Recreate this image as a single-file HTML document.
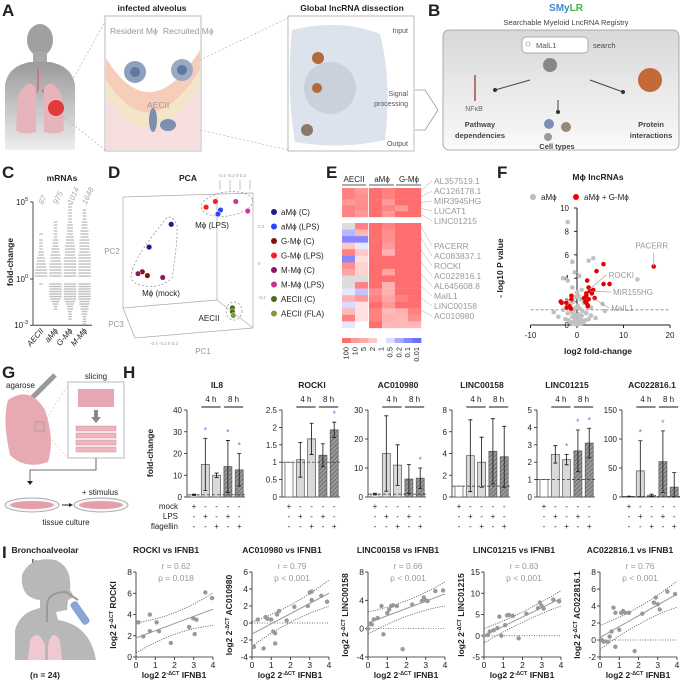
<!DOCTYPE html>
<html><head><meta charset="utf-8">
<style>
html,body{margin:0;padding:0;background:#fff;}
svg{display:block;font-family:"Liberation Sans",sans-serif;}
.pl{font-size:17px;font-weight:bold;fill:#222;}
.t{font-size:8.5px;font-weight:bold;fill:#222;}
.k{font-size:8px;fill:#333;}
.g{font-size:8.5px;fill:#999;}
</style></head>
<body>
<svg id="fig" width="685" height="682" viewBox="0 0 685 682">
<defs>
<pattern id="hatch" width="3" height="3" patternUnits="userSpaceOnUse" patternTransform="rotate(45)"><rect width="3" height="3" fill="#9a9a9a"/><line x1="0" y1="0" x2="0" y2="3" stroke="#555" stroke-width="1.2"/></pattern>
<linearGradient id="bgB" x1="0" y1="0" x2="0" y2="1"><stop offset="0" stop-color="#d8d8d8"/><stop offset="1" stop-color="#fafafa"/></linearGradient>
<linearGradient id="pers" x1="0" y1="0" x2="0" y2="1"><stop offset="0" stop-color="#9a9a9a"/><stop offset="1" stop-color="#eeeeee"/></linearGradient>
</defs>

<!-- Panel A -->
<g>
<text class="pl" x="2" y="16">A</text>
<g>
<ellipse cx="40" cy="40" rx="13" ry="16" fill="#a0a0a0"/>
<rect x="33" y="52" width="14" height="12" fill="#a8a8a8"/>
<path d="M5,150 L5,85 Q8,66 30,62 L50,62 Q72,66 75,85 L75,150 Z" fill="url(#pers)"/>
<path d="M38,68 L38,90 M38,90 L28,100 M42,90 L52,100" stroke="#c87a8a" stroke-width="2" fill="none"/>
<path d="M18,95 Q30,75 36,90 L36,132 Q22,136 16,130 Z" fill="#e8b4bc"/>
<path d="M62,95 Q50,75 44,90 L44,132 Q58,136 64,130 Z" fill="#e8b4bc"/>
<circle cx="56" cy="108" r="8" fill="#e03a3a"/>
</g>
<line x1="60" y1="102" x2="105" y2="22" stroke="#aaa" stroke-width="0.6" stroke-dasharray="2,2"/>
<line x1="60" y1="114" x2="105" y2="150" stroke="#aaa" stroke-width="0.6" stroke-dasharray="2,2"/>
<text class="t" x="152" y="11" text-anchor="middle">infected alveolus</text>
<g>
<rect x="105" y="16" width="96" height="135" fill="#fff" stroke="#aaa" stroke-width="0.8"/>
<path d="M106,58 Q150,130 200,50 L200,70 Q150,150 106,80 Z" fill="#f6cdb8"/>
<path d="M106,80 Q150,150 200,70 L200,85 Q150,165 106,95 Z" fill="#f3e6c8"/>
<path d="M106,95 Q150,165 200,85 L200,150 L106,150 Z" fill="#f7dede"/>
<circle cx="135" cy="72" r="11" fill="#8fa0bc"/><circle cx="135" cy="72" r="5" fill="#62789e"/>
<circle cx="182" cy="70" r="11" fill="#9aa9c4"/><circle cx="182" cy="70" r="5" fill="#62789e"/>
<ellipse cx="168" cy="125" rx="8" ry="6" fill="#7d90b4"/>
<ellipse cx="153" cy="120" rx="4" ry="12" fill="#7d90b4"/>
<text class="g" x="110" y="34" font-size="7" fill="#555">Resident Mϕ</text>
<text class="g" x="163" y="34" font-size="7" fill="#555">Recruited Mϕ</text>
<text class="g" x="147" y="108" font-size="7" fill="#555">AECII</text>
</g>
<line x1="200" y1="60" x2="288" y2="18" stroke="#aaa" stroke-width="0.6" stroke-dasharray="2,2"/>
<line x1="200" y1="130" x2="288" y2="150" stroke="#aaa" stroke-width="0.6" stroke-dasharray="2,2"/>
<text class="t" x="352" y="11" text-anchor="middle">Global lncRNA dissection</text>
<g>
<rect x="288" y="16" width="126" height="135" fill="#fff" stroke="#aaa" stroke-width="0.8"/>
<path d="M292,30 Q340,18 380,34 Q392,80 385,140 Q340,150 295,142 Q286,90 292,30 Z" fill="#dde3ec"/>
<circle cx="330" cy="88" r="26" fill="#c9d1dd"/>
<circle cx="318" cy="58" r="6" fill="#b06a3c"/>
<circle cx="317" cy="88" r="5" fill="#b06a3c"/>
<circle cx="307" cy="130" r="6" fill="#8a7a6a"/>
<text x="408" y="33" font-size="7" fill="#555" text-anchor="end">Input</text>
<text x="408" y="96" font-size="7" fill="#555" text-anchor="end">Signal</text>
<text x="408" y="106" font-size="7" fill="#555" text-anchor="end">processing</text>
<text x="408" y="146" font-size="7" fill="#555" text-anchor="end">Output</text>
</g>
<path d="M415,90 L425,90 L438,110 L425,130 L415,130" fill="#fff" stroke="#999" stroke-width="0.8"/>
</g>

<!-- Panel B -->
<g>
<text class="pl" x="428" y="16">B</text>
<text x="566" y="11" font-size="10" font-weight="bold" text-anchor="middle"><tspan fill="#3a8ad0">SMy</tspan><tspan fill="#3cb44a">LR</tspan></text>
<text x="566" y="25" font-size="7.5" fill="#444" text-anchor="middle">Searchable Myeloid LncRNA Registry</text>
<rect x="443" y="30" width="236" height="120" rx="6" fill="url(#bgB)" stroke="#999" stroke-width="0.8"/>
<rect x="522" y="37" width="66" height="16" rx="4" fill="#fff" stroke="#aaa"/>
<text x="536" y="48" font-size="7.5" fill="#555">MalL1</text>
<circle cx="528" cy="44" r="2" fill="none" stroke="#888" stroke-width="0.6"/>
<text x="593" y="48" font-size="7.5" fill="#444">search</text>
<path d="M475,75 L475,100 M474,100 L476,100" stroke="#b5756a" stroke-width="2"/>
<text x="474" y="111" font-size="7" fill="#666" text-anchor="middle">NFκB</text>
<line x1="495" y1="90" x2="530" y2="80" stroke="#444" stroke-width="1"/><circle cx="495" cy="90" r="2" fill="#333"/>
<circle cx="550" cy="65" r="7" fill="#888"/>
<line x1="590" y1="80" x2="623" y2="92" stroke="#444" stroke-width="1"/><circle cx="623" cy="92" r="2" fill="#333"/>
<circle cx="650" cy="80" r="12" fill="#c46a3a"/>
<line x1="558" y1="100" x2="558" y2="112" stroke="#444"/><circle cx="558" cy="112" r="2" fill="#333"/>
<circle cx="549" cy="124" r="5" fill="#7b8fb8"/><circle cx="566" cy="127" r="5" fill="#9b8776"/><circle cx="548" cy="137" r="4" fill="#999"/>
<text x="480" y="127" font-size="7.5" font-weight="bold" fill="#444" text-anchor="middle">Pathway</text>
<text x="480" y="138" font-size="7.5" font-weight="bold" fill="#444" text-anchor="middle">dependencies</text>
<text x="557" y="149" font-size="7.5" font-weight="bold" fill="#444" text-anchor="middle">Cell types</text>
<text x="651" y="127" font-size="7.5" font-weight="bold" fill="#444" text-anchor="middle">Protein</text>
<text x="651" y="138" font-size="7.5" font-weight="bold" fill="#444" text-anchor="middle">interactions</text>
</g>

<!-- Panel C -->
<g id="panelC">
<text class="pl" x="2" y="178">C</text>
<text class="t" x="62" y="181" text-anchor="middle">mRNAs</text>
<text class="t" transform="translate(13,262) rotate(-90)" text-anchor="middle" font-size="9">fold-change</text>
</g>

<!-- Panel D -->
<g id="panelD">
<text class="pl" x="108" y="178">D</text>
<text class="t" x="188" y="181" text-anchor="middle">PCA</text>
<g stroke="#aaa" stroke-width="0.7" fill="none">
<path d="M123,197 L253,193 L253,328 M123,197 L123,308 L135,338 L253,328 M217,197 L217,300 L253,328 M123,308 L217,300"/>
<path d="M220,190 L220,180 M230,190 L230,180 M240,190 L240,180 M250,190 L250,180"/>
</g>
<text x="232" y="177" font-size="4.5" fill="#999" text-anchor="middle">-0.4 -0.2  0   0.2</text>
<text x="258" y="228" font-size="4.5" fill="#999">0.2</text>
<text x="258" y="265" font-size="4.5" fill="#999">0</text>
<text x="258" y="299" font-size="4.5" fill="#999">-0.2</text>
<text x="150" y="345" font-size="4.5" fill="#999">-0.4   -0.2      0       0.2</text>
<text x="112" y="254" font-size="8" fill="#999" text-anchor="middle">PC2</text>
<text x="116" y="327" font-size="8" fill="#999" text-anchor="middle">PC3</text>
<text x="203" y="354" font-size="8" fill="#999" text-anchor="middle">PC1</text>
<g fill="none" stroke="#888" stroke-width="0.7" stroke-dasharray="2,2">
<path d="M133,268 Q127,282 140,285 Q160,290 172,278 Q178,240 177,225 Q170,210 163,223 Q140,250 133,268 Z"/>
<ellipse cx="227" cy="204" rx="26" ry="12" transform="rotate(-8 227 204)"/>
<ellipse cx="234" cy="311" rx="8" ry="9"/>
</g>
<text x="212" y="228" font-size="8" fill="#222" text-anchor="middle">Mϕ (LPS)</text>
<text x="161" y="296" font-size="8" fill="#222" text-anchor="middle">Mϕ (mock)</text>
<text x="209" y="321" font-size="8" fill="#222" text-anchor="middle">AECII</text>
</g>

<!-- Panel E -->
<g id="panelE">
<text class="pl" x="326" y="178">E</text>
<text x="354" y="182" font-size="8" fill="#222" text-anchor="middle">AECII</text>
<text x="382" y="182" font-size="8" fill="#222" text-anchor="middle">aMϕ</text>
<text x="409" y="182" font-size="8" fill="#222" text-anchor="middle">G-Mϕ</text>
<g stroke="#222" stroke-width="0.8"><line x1="342" y1="185" x2="366" y2="185"/><line x1="369" y1="185" x2="394" y2="185"/><line x1="396" y1="185" x2="421" y2="185"/></g>
</g>

<!-- Panel F -->
<g id="panelF">
<text class="pl" x="497" y="178">F</text>
<text class="t" x="598" y="180" text-anchor="middle">Mϕ lncRNAs</text>
<circle cx="533" cy="197" r="3" fill="#bbb"/>
<text x="541" y="200" font-size="8" fill="#222">aMϕ</text>
<circle cx="576" cy="197" r="3" fill="#e00"/>
<text x="584" y="200" font-size="8" fill="#222">aMϕ + G-Mϕ</text>
<text class="t" transform="translate(503,268) rotate(-90)" text-anchor="middle">- log10 P value</text>
<text class="t" x="598" y="354" text-anchor="middle">log2 fold-change</text>
</g>

<!-- Panel G -->
<g>
<text class="pl" x="2" y="378">G</text>
<text x="6" y="388" font-size="8" fill="#222">agarose</text>
<path d="M25,405 L55,375" stroke="#999" stroke-width="5"/>
<path d="M8,400 Q30,385 45,410 Q55,440 48,462 Q25,470 10,455 Q2,420 8,400 Z" fill="#e7a9b2"/>
<rect x="35" y="422" width="9" height="9" fill="none" stroke="#999" stroke-width="0.7"/>
<line x1="44" y1="422" x2="68" y2="385" stroke="#aaa" stroke-width="0.5" stroke-dasharray="2,2"/>
<line x1="44" y1="431" x2="68" y2="458" stroke="#aaa" stroke-width="0.5" stroke-dasharray="2,2"/>
<text x="96" y="379" font-size="8" fill="#222" text-anchor="middle">slicing</text>
<rect x="68" y="382" width="56" height="76" fill="#fff" stroke="#bbb"/>
<rect x="78" y="389" width="36" height="18" fill="#e6a8b2"/>
<path d="M96,410 L96,418" stroke="#888" stroke-width="4"/><path d="M91,417 L101,417 L96,423 Z" fill="#888"/>
<g fill="#edb6be" stroke="#d48d99" stroke-width="0.5"><rect x="76" y="426" width="40" height="5"/><rect x="76" y="433" width="40" height="5"/><rect x="76" y="440" width="40" height="5"/><rect x="76" y="447" width="40" height="5"/></g>
<path d="M96,458 L96,470 L30,470 L30,482" stroke="#444" fill="none" stroke-width="0.8"/><path d="M27,481 L33,481 L30,485 Z" fill="#222"/>
<text x="100" y="495" font-size="8" fill="#222" text-anchor="middle">+ stimulus</text>
<ellipse cx="32" cy="505" rx="27" ry="7" fill="#f7f7f7" stroke="#aaa"/><ellipse cx="32" cy="505" rx="22" ry="4" fill="#e3a0aa"/>
<path d="M62,505 L70,505" stroke="#222"/><path d="M69,503 L73,505 L69,507 Z" fill="#222"/>
<ellipse cx="101" cy="505" rx="27" ry="7" fill="#f7f7f7" stroke="#aaa"/><ellipse cx="101" cy="505" rx="22" ry="4" fill="#e3a0aa"/>
<text x="66" y="525" font-size="8" fill="#222" text-anchor="middle">tissue culture</text>
</g>

<!-- Panel H -->
<g id="panelH">
<text class="pl" x="123" y="378">H</text>
<text class="t" transform="translate(153,453) rotate(-90)" text-anchor="middle" font-size="9">fold-change</text>
<text x="178" y="509" font-size="8" fill="#222" text-anchor="end">mock</text>
<text x="178" y="519" font-size="8" fill="#222" text-anchor="end">LPS</text>
<text x="178" y="529" font-size="8" fill="#222" text-anchor="end">flagellin</text>
</g>

<!-- Panel I -->
<g id="panelI">
<text class="pl" x="2" y="558">I</text>
<text class="t" x="45" y="553" text-anchor="middle">Bronchoalveolar</text>
<text class="t" x="45" y="565" text-anchor="middle">lavage</text>
<g>
<path d="M15,660 L15,630 Q20,612 40,608 L40,600 Q20,598 22,575 Q30,556 55,560 Q72,566 70,590 L74,597 L68,600 L67,610 L56,612 L58,620 Q90,625 96,660 Z" fill="#b8b8b8"/>
<path d="M30,640 Q38,628 45,645 L45,660 L28,660 Z M60,640 Q52,628 48,645 L48,660 L62,660 Z" fill="#f0c8cf"/>
<path d="M47,622 L47,605 Q48,592 66,592 L78,600" stroke="#999" stroke-width="2" fill="none"/>
<rect x="76" y="600" width="8" height="26" rx="3" transform="rotate(-35 80 613)" fill="#8aa4d4"/>
</g>
<text class="t" x="45" y="678" text-anchor="middle">(n = 24)</text>
</g>
</svg>

<script>
const NS = 'http://www.w3.org/2000/svg';
function mk(parent, tag, attrs, txt) {
  const e = document.createElementNS(NS, tag);
  for (const k in attrs) e.setAttribute(k, attrs[k]);
  if (txt !== undefined) e.textContent = txt;
  parent.appendChild(e);
  return e;
}

/* ---------------- Panel C data ---------------- */
const cCategories = ['AECII', 'aMϕ', 'G-Mϕ', 'M-Mϕ'];
const cCounts = ['87', '975', '1014', '1648'];
const cUpRows = [
  [5,5,5,4,4,3,3,2,2,1,1,1,1,0,1],
  [5,5,5,5,5,4,4,4,3,3,2,2,2,1,1,1,1,1,1],
  [5,5,5,5,5,5,5,4,4,4,4,3,3,3,2,2,2,2,1,1,1,1,1,1,1],
  [5,5,5,5,5,5,5,5,4,4,4,4,4,3,3,3,2,2,2,1,1,1,1]
];
const cDownRows = [
  [1],
  [5,5,5,5,5,5,4,3,2,1,1],
  [5,5,5,5,5,5,5,4,3,2,2,1,1,1,1],
  [5,5,5,5,5,5,5,4,4,3,3,2,2,1,1,1,1]
];
const cTicks = [5, 0, -3];

/* ---------------- Panel D data ---------------- */
const pcaGroups = ['aMϕ (C)','aMϕ (LPS)','G-Mϕ (C)','G-Mϕ (LPS)','M-Mϕ (C)','M-Mϕ (LPS)','AECII (C)','AECII (FLA)'];
const pcaColors = ['#1b1b8f','#2a44ff','#8a1010','#ff1a1a','#8a1a5c','#d4338c','#4b6a1c','#7c9c3c'];
const pcaPC1 = [[-0.14,-0.27],[0.15,0.135],[-0.31,-0.28],[0.065,0.12],[-0.335,-0.19],[0.24,0.31],[0.22,0.22],[0.225]];
const pcaPC2 = [[0.23,0.11],[0.305,0.284],[-0.02,-0.04],[0.32,0.35],[-0.03,-0.05],[0.35,0.30],[-0.21,-0.23],[-0.25]];

/* ---------------- Panel E data ---------------- */
const heatTopGenes = ['AL357519.1','AC126178.1','MIR3945HG','LUCAT1','LINC01215'];
const heatBottomGenes = ['PACERR','AC083837.1','ROCKI','AC022816.1','AL645608.8','MaIL1','LINC00158','AC010980'];
const heatTop = [
  [1.5,1.0,2,1.5,2,2],[1.5,1.2,2,1.5,2,2],[1.0,1.2,2,1.0,2,2],[1.5,1.2,2,1.5,1.0,2],[1.5,1.0,2,1.0,2,2]
];
const heatBottom = [
  [null,1.5,2,1.5,2,2],[-0.6,0.5,2,1.2,2,2],[-1,-1,2,1.2,2,2],[0.3,-0.2,2,1,2,2],
  [1.5,0.3,2,0.6,2,2],[-1,0.1,2,2,2,2],[1.2,0.2,2,2,2,2],[0.8,0.2,2,0.8,2,2],
  [null,null,2,2,2,2],[null,1.5,2,0.6,2,2],[-0.2,-0.5,1.2,0.6,2,2],[0.6,1.0,1.5,0.8,1.5,2],
  [-0.3,0.1,2,1,2,2],[0.5,0.1,1.5,0.5,0.6,1.5],[1.5,0.1,1.5,0.6,0.5,1.2],[-0.2,0,2,0.5,0.5,0.5]
];
const colorbarLabels = ['100','10','5','2','1','0.5','0.2','0.1','0.01'];
const colorbarValues = [2,1,0.7,0.3,0,-0.3,-0.7,-1,-1.5];

/* ---------------- Panel F data ---------------- */
const volRedX = [5.7,4.2,2.2,16.5,5.7,7,2.5,3.5,2.8,2,3.2,2,1.5,2.5,3.8,-1.2,-1.2,-3.3,-3.5,-2.3,-2.2,-1.3,-1.6,2,2.3,2.3,1.8];
const volRedY = [5.2,4.6,3.8,5.0,3.5,3.5,3.2,3.0,2.9,2.7,2.7,2.5,2.3,2.2,2.3,2.5,2.2,1.9,2.0,1.9,1.5,1.4,1.6,1.9,1.7,1.6,2.0];
const volGrayX = [-2,3.5,13,2.5,-1,-3,-2,5.5,-0.5,0.5,-1,1,0,0.3,-0.3,0.8,-0.8,1.5,-1.5,0.2,-0.2,0.6,-0.6,1.2,-1.2,2,-2,0.4,-0.4,0,1,-1,0.5,-0.5,0.1,-0.1,2.5,-2.5,3,1.8,-1.8,0.7,-0.7,4,-4,1.3,-1.3,0.9,-0.9,0,0.2,-0.2,6,-5,3,-3,1.1,0,0.4,-0.4];
const volGrayY = [8.8,5.7,3.9,5.5,5.4,4.0,3.8,1.8,4.5,4.2,3.2,3.0,2.8,2.5,2.4,2.2,2.0,1.9,1.8,1.6,1.5,1.4,1.3,1.2,1.1,1.0,1.0,0.9,0.9,0.8,0.8,0.7,0.7,0.6,0.6,0.5,0.5,0.5,0.8,0.4,0.4,0.3,0.3,0.6,0.7,0.2,0.2,0.15,0.15,0.1,0.05,0.05,1.2,1.1,1.5,1.3,0.4,0.3,0.25,0.25];
const volLabels = ['PACERR','ROCKI','MIR155HG','MaIL1'];
const volLabelX = [16.5,2.5,2.8,3.5];
const volLabelY = [5.0,3.0,2.9,2.3];
const volXTicks = [-10,0,10,20];
const volYTicks = [0,2,4,6,8,10];

/* ---------------- Panel H data ---------------- */
const hGenes = ['IL8','ROCKI','AC010980','LINC00158','LINC01215','AC022816.1'];
const hMeans = [[1,15,10,14,12.5],[1,1.07,1.67,1.2,1.93],[1,15,11,6.2,6.5],[1,3.8,3.2,4.2,3.7],[1,2.45,2.15,2.65,3.1],[1,45,3,61,17]];
const hErrs = [[0.3,12,1,12,7.5],[0,0.5,0.45,0.33,0.22],[0.3,13,7,5,3.5],[0,3.3,2.3,3,2.8],[0,0.5,0.3,1.2,0.85],[0.5,52,2,53,25]];
const hStars = [[0,1,0,1,1],[0,0,0,0,1],[0,0,0,0,1],[0,0,0,0,0],[0,0,1,1,1],[0,1,0,1,0]];
const hTicks = [[0,10,20,30,40],[0,0.5,1,1.5,2,2.5],[0,10,20,30],[0,2,4,6,8],[0,1,2,3,4,5],[0,50,100,150]];
const hTickLabels = [['0','10','20','30','40'],['0','0.5','1','1.5','2','2.5'],['0','10','20','30'],['0','2','4','6','8'],['0','1','2','3','4','5'],['0','50','100','150']];
const hMock = ['+','-','-','-','-'];
const hLPS = ['-','+','-','+','-'];
const hFla = ['-','-','+','-','+'];

/* ---------------- Panel I data ---------------- */
const iGenes = ['ROCKI','AC010980','LINC00158','LINC01215','AC022816.1'];
const iR = ['r = 0.62','r = 0.79','r = 0.66','r = 0.83','r = 0.76'];
const iP = ['p = 0.018','p < 0.001','p < 0.001','p < 0.001','p < 0.001'];
const iX = [
  [0.12,0.38,0.72,0.72,1.07,1.19,1.81,2.76,2.97,3.14,3.05,3.6,3.95],
  [0.1,0.3,0.6,0.7,0.8,1.0,1.1,1.2,1.2,1.3,1.4,1.8,2.2,2.9,3.0,3.1,3.1,3.6,3.9],
  [0,0.1,0.2,0.3,0.5,0.7,0.8,1.0,1.1,1.2,1.3,1.5,1.8,2.3,2.8,2.9,3.0,3.1,3.5,3.9],
  [0,0.2,0.3,0.5,0.7,0.8,0.9,1.1,1.2,1.3,1.5,1.8,2.2,2.8,2.9,3.0,3.1,3.6,3.9],
  [0.1,0.2,0.4,0.5,0.6,0.7,0.8,0.8,1.0,1.1,1.2,1.3,1.5,1.8,2.2,2.8,2.9,3.0,3.1,3.5,3.9]
];
const iY = [
  [3.26,1.94,3.99,2.43,3.26,2.43,1.32,2.82,3.64,3.51,2.16,6.08,5.55],
  [-2.8,0.4,-3,0.7,0.5,0.4,-1,-1.2,-2.4,1,1.4,0.3,1.9,2,3.6,3.7,2.7,3.2,2.5],
  [0,0.7,0.6,1.3,1.5,3.2,-0.8,2.2,2.7,3.2,3.3,3.2,-2.9,3.4,3.9,4.4,4.0,3.9,5.3,5.4],
  [0,0.2,1,1.3,1.8,4.5,0,2.5,4.8,4.9,4.7,-0.6,5.2,6.5,7.8,7,6.4,8.5,8.1],
  [0,-0.2,-0.2,0.4,1,3.8,3.2,-0.8,1.2,3.2,3.4,3.2,3.2,-1.3,3.1,4.4,5,4.2,3.6,5.7,5.4]
];
const iFitStart = [1.8,-1.3,0.8,0,0.3];
const iFitEnd = [4.5,3.5,4.9,8.8,5.4];
const iCIWidth = [1.1,1.1,1.2,1.3,1.1];
const iYTicks = [[0,2,4,6,8],[-4,-2,0,2,4,6],[-4,0,4,8],[-5,0,5,10,15],[-2,0,2,4,6,8]];
const iXTicks = [0,1,2,3,4];

/* ================= Draw C ================= */
(function(){
  const g = document.getElementById('panelC');
  const yOf = v => 279 - (v) * 15.4;
  const ax = mk(g,'line',{x1:33,y1:yOf(5),x2:33,y2:yOf(-3),stroke:'#222','stroke-width':0.8});
  
  
  cTicks.forEach(t=>{
    const tk = mk(g,'line',{x1:30,y1:yOf(t),x2:33,y2:yOf(t),stroke:'#222','stroke-width':0.8});
    
    
    const tl = mk(g,'text',{x:28,y:yOf(t)+3,'font-size':8,'text-anchor':'end',fill:'#222'});
    
    
    mk(tl,'tspan',{},'10');
    mk(tl,'tspan',{dy:-4,'font-size':5.5},String(t));
  });
  const xl = mk(g,'line',{x1:33,y1:yOf(-3),x2:92,y2:yOf(-3),stroke:'#222','stroke-width':0.8});
  
  
  cCategories.forEach((c,i)=>{
    const cx = 41 + i*14.5;
    const col = mk(g,'g',{fill:'#bdbdbd'});
    
    
    cUpRows[i].forEach((n,r)=>{ for(let k=-n;k<=n;k++){ if(n===0)continue; mk(col,'circle',{cx:cx+k*1.1,cy:276-r*3,r:0.8}); } });
    cDownRows[i].forEach((n,r)=>{ for(let k=-n;k<=n;k++){ mk(col,'circle',{cx:cx+k*1.1,cy:284+r*2.5,r:0.8}); } });
    const cnt = mk(g,'text',{transform:`translate(${cx+2},${205}) rotate(-65)`,'font-size':8,fill:'#aaa','font-style':'italic'},cCounts[i]);
    
    
    const lab = mk(g,'text',{transform:`translate(${cx+3},${331}) rotate(-50)`,'font-size':8,'text-anchor':'end',fill:'#222','font-style':'italic'},c);
    
    
  });
})();

/* ================= Draw D ================= */
(function(){
  const g = document.getElementById('panelD');
  const px = v => 195 + v * 170;
  const py = v => 268 - v * 190;
  pcaGroups.forEach((name,i)=>{
    pcaPC1[i].forEach((v,j)=>{
      const c = mk(g,'circle',{cx:px(v),cy:py(pcaPC2[i][j]),r:2.8,fill:pcaColors[i],stroke:'#fff','stroke-width':0.5});
      
      
    });
    const ly = 215 + i*14.5;
    const ld = mk(g,'circle',{cx:274,cy:ly-3,r:3,fill:pcaColors[i]});
    
    
    const lt = mk(g,'text',{x:281,y:ly,'font-size':8,fill:'#222'},name);
    
    
  });
})();

/* ================= Draw E ================= */
(function(){
  const g = document.getElementById('panelE');
  const colX = [342,355,369,382,395,408];
  function col(v){
    if (v===null) return '#dcdcdc';
    const t = Math.max(-1,Math.min(1,v/ (v>0?2:1.2)));
    if (t>=0){ const r=255, gg=Math.round(255-(255-110)*Math.sqrt(t)), b=gg; return `rgb(${r},${gg},${b})`; }
    const a = -t; const c = Math.round(255-(255-110)*a); return `rgb(${c},${c},255)`;
  }
  function block(data, y0, h){
    data.forEach((row,r)=>row.forEach((v,c)=>{
      const rc = mk(g,'rect',{x:colX[c],y:y0+r*h,width:13.2,height:h+0.2,fill:col(v)});
      
      
    }));
  }
  block(heatTop, 188, 5.8);
  block(heatBottom, 223, 6.56);
  heatTopGenes.forEach((n,i)=>{
    const y = 184 + i*10;
    mk(g,'line',{x1:421,y1:191+i*5.8,x2:432,y2:y-3,stroke:'#aaa','stroke-width':0.5});
    const t = mk(g,'text',{x:434,y:y,'font-size':8.5,fill:'#999'},n);
    
    
  });
  heatBottomGenes.forEach((n,i)=>{
    const y = 249 + i*10;
    mk(g,'line',{x1:421,y1:226+i*12,x2:432,y2:y-3,stroke:'#aaa','stroke-width':0.5});
    const t = mk(g,'text',{x:434,y:y,'font-size':8.5,fill:'#999'},n);
    
    
  });
  colorbarValues.forEach((v,i)=>{
    const x = 342 + i*8.8;
    const r = mk(g,'rect',{x:x,y:338,width:9,height:5,fill:col(v)});
    
    
    const t = mk(g,'text',{transform:`translate(${x+6.5},347) rotate(-90)`,'font-size':7.5,'text-anchor':'end',fill:'#222'},colorbarLabels[i]);
    
    
  });
})();

/* ================= Draw F ================= */
(function(){
  const g = document.getElementById('panelF');
  const sx = v => 577 + v*4.65;
  const sy = v => 325 - v*11.7;
  const ya = mk(g,'line',{x1:577,y1:sy(10),x2:577,y2:sy(0),stroke:'#222','stroke-width':1});
  
  
  const xa = mk(g,'line',{x1:sx(-10),y1:sy(0),x2:sx(20),y2:sy(0),stroke:'#222','stroke-width':1});
  
  
  volYTicks.forEach(t=>{
    mk(g,'line',{x1:574,y1:sy(t),x2:577,y2:sy(t),stroke:'#222'});
    const l = mk(g,'text',{x:569,y:sy(t)+3,'font-size':8,'text-anchor':'end',fill:'#222'},String(t));
    
    
  });
  volXTicks.forEach(t=>{
    mk(g,'line',{x1:sx(t),y1:sy(0),x2:sx(t),y2:sy(0)+3,stroke:'#222'});
    const l = mk(g,'text',{x:sx(t),y:sy(0)+13,'font-size':8,'text-anchor':'middle',fill:'#222'},String(t));
    
    
  });
  const th = mk(g,'line',{x1:sx(-10),y1:sy(1.3),x2:sx(20),y2:sy(1.3),stroke:'#888','stroke-dasharray':'3,2','stroke-width':0.8});
  
  
  volGrayX.forEach((v,i)=>{
    const c = mk(g,'circle',{cx:sx(v),cy:sy(volGrayY[i]),r:2.3,fill:'#c0c0c0'});
    
    
  });
  volRedX.forEach((v,i)=>{
    const c = mk(g,'circle',{cx:sx(v),cy:sy(volRedY[i]),r:2.3,fill:'#e60000'});
    
    
  });
  const off = [[-2,-18],[20,-12],[23,4],[18,13]];
  volLabels.forEach((n,i)=>{
    const x0 = sx(volLabelX[i]), y0 = sy(volLabelY[i]);
    mk(g,'line',{x1:x0,y1:y0,x2:x0+off[i][0]+(i===0?2:-2),y2:y0+off[i][1]+(i===0?4:-3),stroke:'#999','stroke-width':0.6});
    const t = mk(g,'text',{x:x0+off[i][0],y:y0+off[i][1],'font-size':8,fill:'#999','text-anchor':i===0?'middle':'start'},n);
    
    
  });
})();

/* ================= Draw H ================= */
(function(){
  const g = document.getElementById('panelH');
  const axisX = [187,282,368,452,537,622];
  const y0 = 497, y1 = 410;
  hGenes.forEach((gene,p)=>{
    const ax = axisX[p];
    const ticks = hTicks[p];
    const maxV = ticks[ticks.length-1];
    const sy = v => y0 - (v/maxV)*(y0-y1);
    const bx = i => ax + 7 + i*11.3;
    const title = mk(g,'text',{x:ax+30,y:388,'font-size':8.5,'font-weight':'bold','text-anchor':'middle',fill:'#222'},gene);
    
    
    const ya = mk(g,'line',{x1:ax,y1:y1,x2:ax,y2:y0,stroke:'#222','stroke-width':0.8});
    
    
    const xa = mk(g,'line',{x1:ax,y1:y0,x2:ax+58,y2:y0,stroke:'#222','stroke-width':0.8});
    
    
    ticks.forEach((t,k)=>{
      mk(g,'line',{x1:ax-3,y1:sy(t),x2:ax,y2:sy(t),stroke:'#222','stroke-width':0.8});
      const tl = mk(g,'text',{x:ax-5,y:sy(t)+3,'font-size':8,'text-anchor':'end',fill:'#222'},hTickLabels[p][k]);
      
      
    });
    [['4 h',1],['8 h',3]].forEach(([lab,i])=>{
      const cx = (bx(i)+bx(i+1))/2;
      const t = mk(g,'text',{x:cx,y:402,'font-size':8,'text-anchor':'middle',fill:'#222'},lab);
      
      
      mk(g,'line',{x1:bx(i)-4,y1:407,x2:bx(i+1)+4,y2:407,stroke:'#444','stroke-width':1.2});
    });
    hMeans[p].forEach((v,i)=>{
      const fill = i===0 ? '#fff' : (i<3 ? '#d9d9d9' : 'url(#hatch)');
      const b = mk(g,'rect',{x:bx(i)-4,y:sy(v),width:8,height:y0-sy(v),fill:fill,stroke:'#555','stroke-width':0.7});
      
      
      const e = hErrs[p][i];
      if (e>0){
        const eb = mk(g,'path',{d:`M${bx(i)},${sy(Math.max(0,v-e))} L${bx(i)},${sy(v+e)} M${bx(i)-2},${sy(v+e)} L${bx(i)+2},${sy(v+e)} M${bx(i)-2},${sy(Math.max(0,v-e))} L${bx(i)+2},${sy(Math.max(0,v-e))}`,stroke:'#111','stroke-width':0.8,fill:'none'});
        
        
      }
      if (hStars[p][i]){
        const s = mk(g,'text',{x:bx(i),y:sy(v+e)-5,'font-size':9,'text-anchor':'middle',fill:'#5a8ae0'},'*');
        
        
      }
      [[hMock,509],[hLPS,519],[hFla,529]].forEach(([arr,y])=>{
        const t = mk(g,'text',{x:bx(i),y:y,'font-size':8,'text-anchor':'middle',fill:'#222'},arr[i]);
        
        
      });
    });
    const dl = mk(g,'line',{x1:ax,y1:sy(1),x2:ax+58,y2:sy(1),stroke:'#333','stroke-dasharray':'3,2','stroke-width':0.7});
    
    
  });
})();

/* ================= Draw I ================= */
(function(){
  const g = document.getElementById('panelI');
  iGenes.forEach((gene,p)=>{
    const x0 = 136 + p*116, w = 77;
    const ticks = iYTicks[p];
    const ymin = ticks[0], ymax = ticks[ticks.length-1];
    const sx = v => x0 + v/4*w;
    const sy = v => 657 - (v-ymin)/(ymax-ymin)*85;
    const title = mk(g,'text',{x:x0+30,y:553,'font-size':8.5,'font-weight':'bold','text-anchor':'middle',fill:'#222'},gene+' vs IFNB1');
    
    
    const rt = mk(g,'text',{x:x0+40,y:569,'font-size':8.5,'text-anchor':'middle',fill:'#999'},iR[p]);
    
    
    const pt = mk(g,'text',{x:x0+40,y:581,'font-size':8.5,'text-anchor':'middle',fill:'#999'},iP[p]);
    
    
    const ya = mk(g,'line',{x1:x0,y1:sy(ymax),x2:x0,y2:sy(ymin),stroke:'#222','stroke-width':0.8});
    
    
    const xa = mk(g,'line',{x1:x0,y1:sy(ymin),x2:x0+w,y2:sy(ymin),stroke:'#222','stroke-width':0.8});
    
    
    ticks.forEach(t=>{
      mk(g,'line',{x1:x0-3,y1:sy(t),x2:x0,y2:sy(t),stroke:'#222','stroke-width':0.8});
      const l = mk(g,'text',{x:x0-4,y:sy(t)+3,'font-size':8.5,'text-anchor':'end',fill:'#222'},String(t));
      
      
    });
    iXTicks.forEach(t=>{
      mk(g,'line',{x1:sx(t),y1:sy(ymin),x2:sx(t),y2:sy(ymin)+3,stroke:'#222','stroke-width':0.8});
      const l = mk(g,'text',{x:sx(t),y:sy(ymin)+11,'font-size':8.5,'text-anchor':'middle',fill:'#222'},String(t));
      
      
    });
    if (ymin<0){
      const z = mk(g,'line',{x1:x0,y1:sy(0),x2:x0+w,y2:sy(0),stroke:'#444','stroke-dasharray':'1,1.5','stroke-width':0.7});
      
      
    }
    const a = iFitStart[p], b = iFitEnd[p], c = iCIWidth[p];
    const fit = mk(g,'line',{x1:sx(0),y1:sy(a),x2:sx(4),y2:sy(b),stroke:'#999','stroke-width':1});
    
    
    [1,-1].forEach(sgn=>{
      const ci = mk(g,'path',{d:`M${sx(0)},${sy(a+sgn*c*1.3)} Q${sx(2)},${sy((a+b)/2+sgn*c*0.5)} ${sx(4)},${sy(b+sgn*c*1.4)}`,stroke:'#444','stroke-dasharray':'1.2,1.2','stroke-width':0.7,fill:'none'});
      
      
    });
    iX[p].forEach((v,i)=>{
      const d = mk(g,'circle',{cx:sx(v),cy:sy(iY[p][i]),r:2.2,fill:'#999'});
      
      
    });
    const yt = mk(g,'text',{transform:`translate(${x0-20},${615}) rotate(-90)`,'font-size':8.5,'font-weight':'bold','text-anchor':'middle',fill:'#222'});
    
    
    mk(yt,'tspan',{},'log2 2');
    mk(yt,'tspan',{dy:-3,'font-size':5.5},'-ΔCT');
    mk(yt,'tspan',{dy:3},' '+gene);
    const xt = mk(g,'text',{x:x0+38,y:678,'font-size':8.5,'font-weight':'bold','text-anchor':'middle',fill:'#222'});
    
    
    mk(xt,'tspan',{},'log2 2');
    mk(xt,'tspan',{dy:-3,'font-size':5.5},'-ΔCT');
    mk(xt,'tspan',{dy:3},' IFNB1');
  });
})();
</script>
</body></html>
